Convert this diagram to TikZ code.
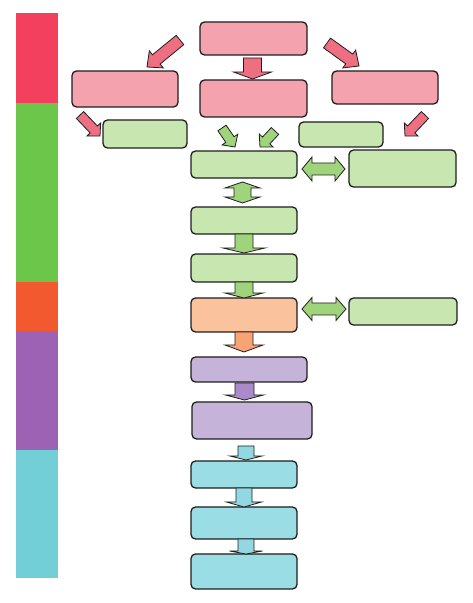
\documentclass[tikz,border=0pt]{standalone}
\usetikzlibrary{calc}
\definecolor{pinkbox}{HTML}{F4A3AE}
\definecolor{pinkarr}{HTML}{EE6F82}
\definecolor{greenbox}{HTML}{C8E7B0}
\definecolor{greenarr}{HTML}{9FD47C}
\definecolor{orangebox}{HTML}{FBC29E}
\definecolor{orangearr}{HTML}{F9A273}
\definecolor{purplebox}{HTML}{C5B3D9}
\definecolor{purplearr}{HTML}{A98BCB}
\definecolor{cyanbox}{HTML}{9ADDE4}
\definecolor{cyanarr}{HTML}{92D8E2}
\definecolor{barred}{HTML}{F2405E}
\definecolor{bargreen}{HTML}{6CC64A}
\definecolor{barorange}{HTML}{F2592E}
\definecolor{barpurple}{HTML}{9E62B5}
\definecolor{barcyan}{HTML}{72CFD8}
\definecolor{edge}{HTML}{1E1E1E}
\tikzset{
  boxbase/.style={draw=edge, line width=1.3pt, rounded corners=4.5pt, inner sep=0pt},
  pinkb/.style={boxbase, fill=pinkbox},
  greenb/.style={boxbase, fill=greenbox},
  orangeb/.style={boxbase, fill=orangebox},
  purpleb/.style={boxbase, fill=purplebox},
  cyanb/.style={boxbase, fill=cyanbox},
  arrbase/.style={draw=edge, line width=0.8pt, line join=miter},
  pinka/.style={arrbase, fill=pinkarr},
  greena/.style={arrbase, fill=greenarr},
  orangea/.style={arrbase, fill=orangearr},
  purplea/.style={arrbase, fill=purplearr},
  cyana/.style={arrbase, fill=cyanarr},
}
% box: name, style, x1, y1, x2, y2 (pixel coords, y downward)
\newcommand\bx[6]{%
  \node[#2, minimum width={(#5-#3)*1pt}, minimum height={(#6-#4)*1pt}] (#1)
    at ({(#3+#5)/2},{603-(#4+#6)/2}) {};}
% block arrow: style, tail, tip, shaft half, head half, head length
\newcommand\barr[6]{%
  \coordinate (bh) at ($(#3)!#6pt!(#2)$);
  \draw[#1] ($(#2)!#4pt!90:(#3)$) -- ($(bh)!#4pt!90:(#3)$) -- ($(bh)!#5pt!90:(#3)$) -- (#3)
    -- ($(bh)!#5pt!-90:(#3)$) -- ($(bh)!#4pt!-90:(#3)$) -- ($(#2)!#4pt!-90:(#3)$) -- cycle;}
% double block arrow: style, end A, end B, shaft half, head half, head length
\newcommand\dbarr[6]{%
  \coordinate (ha) at ($(#2)!#6pt!(#3)$);
  \coordinate (hb) at ($(#3)!#6pt!(#2)$);
  \draw[#1] (#2) -- ($(ha)!#5pt!90:(#3)$) -- ($(ha)!#4pt!90:(#3)$) -- ($(hb)!#4pt!-90:(#2)$)
    -- ($(hb)!#5pt!-90:(#2)$) -- (#3) -- ($(hb)!#5pt!90:(#2)$) -- ($(hb)!#4pt!90:(#2)$)
    -- ($(ha)!#4pt!-90:(#3)$) -- ($(ha)!#5pt!-90:(#3)$) -- cycle;}
\newcommand\pt[3]{\coordinate (#1) at (#2,{603-#3});}
\begin{document}
\begin{tikzpicture}[x=1pt,y=1pt]
\useasboundingbox (0,0) rectangle (472,603);
\fill[white] (0,0) rectangle (472,603);
% left colour bar
\fill[barred]    (16,{603-13})  rectangle (58,{603-103});
\fill[bargreen]  (16,{603-103}) rectangle (58,{603-282});
\fill[barorange] (16,{603-282}) rectangle (58,{603-331});
\fill[barpurple] (16,{603-331}) rectangle (58,{603-450});
\fill[barcyan]   (16,{603-450}) rectangle (58,{603-578});
% boxes
\bx{p1}{pinkb}{200}{22}{307}{55}
\bx{p2}{pinkb}{72}{71}{178}{107}
\bx{p3}{pinkb}{200}{80}{307}{117}
\bx{p4}{pinkb}{332}{71}{438}{104}
\bx{g1}{greenb}{103}{120}{187}{148}
\bx{g2}{greenb}{299}{122}{383}{147}
\bx{g3}{greenb}{191}{151}{297}{178}
\bx{g4}{greenb}{349}{150}{456}{187}
\bx{g5}{greenb}{191}{207}{297}{234}
\bx{g6}{greenb}{191}{254}{297}{282}
\bx{o1}{orangeb}{191}{298}{297}{332}
\bx{g7}{greenb}{349}{298}{457}{325}
\bx{u1}{purpleb}{191}{357}{307}{382}
\bx{u2}{purpleb}{192}{402}{312}{439}
\bx{c1}{cyanb}{191}{461}{297}{488}
\bx{c2}{cyanb}{191}{507}{297}{539}
\bx{c3}{cyanb}{191}{554}{297}{589}
% arrow end points
\pt{a1t}{180}{40}   \pt{a1h}{147}{67}
\pt{a2t}{327}{43}   \pt{a2h}{359}{66}
\pt{a3t}{252.5}{58} \pt{a3h}{252.5}{79}
\pt{a4t}{80}{115}   \pt{a4h}{100}{136}
\pt{a5t}{425}{115}  \pt{a5h}{405}{136}
\pt{a6t}{222}{128}  \pt{a6h}{235}{147}
\pt{a7t}{275}{131}  \pt{a7h}{260}{147}
\pt{d1a}{302}{169}  \pt{d1b}{345}{169}
\pt{d2a}{242.5}{182} \pt{d2b}{242.5}{203}
\pt{a8t}{244}{234}  \pt{a8h}{244}{253}
\pt{a9t}{244}{282}  \pt{a9h}{244}{298}
\pt{d3a}{302}{309}  \pt{d3b}{346}{309}
\pt{a10t}{244}{332} \pt{a10h}{244}{352}
\pt{a11t}{244.5}{383} \pt{a11h}{244.5}{400}
\pt{a12t}{246}{446} \pt{a12h}{246}{460}
\pt{a13t}{244}{488} \pt{a13h}{244}{507}
\pt{a14t}{246}{539} \pt{a14h}{246}{554}
% arrows
\barr{pinka}{a1t}{a1h}{6}{11}{12}
\barr{pinka}{a2t}{a2h}{6}{11}{12}
\barr{pinka}{a3t}{a3h}{9}{19}{7}
\barr{pinka}{a4t}{a4h}{5}{9.5}{9}
\barr{pinka}{a5t}{a5h}{5}{9.5}{9}
\barr{greena}{a6t}{a6h}{5}{9.5}{9}
\barr{greena}{a7t}{a7h}{5}{9.5}{9}
\dbarr{greena}{d1a}{d1b}{6}{12}{10}
\dbarr{greena}{d2a}{d2b}{8.5}{17.5}{6}
\barr{greena}{a8t}{a8h}{9}{21}{5}
\barr{greena}{a9t}{a9h}{9}{19}{5}
\dbarr{greena}{d3a}{d3b}{6}{11.5}{10}
\barr{orangea}{a10t}{a10h}{9}{19}{7}
\barr{purplea}{a11t}{a11h}{9.5}{19}{5}
\barr{cyana}{a12t}{a12h}{8}{16}{4}
\barr{cyana}{a13t}{a13h}{8}{17.5}{5}
\barr{cyana}{a14t}{a14h}{8}{16.5}{3}
\end{tikzpicture}
\end{document}
